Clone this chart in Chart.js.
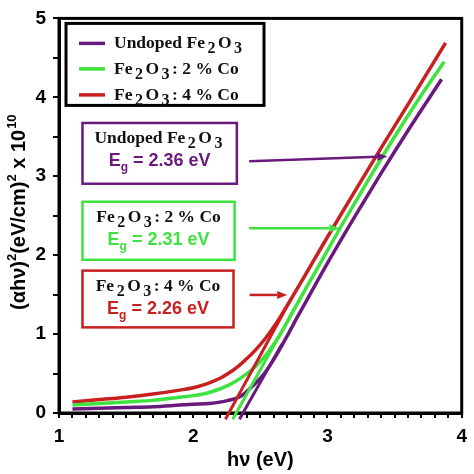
<!DOCTYPE html>
<html>
<head>
<meta charset="utf-8">
<script src="https://cdn.jsdelivr.net/npm/chart.js@4"></script>
<style>
  html, body { margin: 0; padding: 0; background: #fff; }
</style>
</head>
<body>
<canvas id="taucChart" width="474" height="474"></canvas>
<script>
// Tauc plot data (hv in eV, (ahv)^2 in 1e10 units)
const undopedX = [1.1, 1.3, 1.5, 1.7, 1.9, 2.0, 2.12, 2.26, 2.36, 2.41, 2.46, 2.52, 2.6, 2.8, 3.0, 3.2, 3.4, 3.6, 3.85];
const undopedY = [0.05, 0.06, 0.07, 0.08, 0.1, 0.11, 0.12, 0.16, 0.22, 0.29, 0.37, 0.48, 0.68, 1.29, 1.9, 2.48, 3.04, 3.58, 4.23];

const co2X = [1.1, 1.3, 1.5, 1.7, 1.9, 2.0, 2.12, 2.26, 2.4, 2.47, 2.53, 2.6, 2.67, 2.75, 2.85, 2.95, 3.1, 3.3, 3.5, 3.7, 3.87];
const co2Y = [0.1, 0.12, 0.14, 0.16, 0.2, 0.22, 0.26, 0.35, 0.5, 0.6, 0.71, 0.87, 1.06, 1.31, 1.61, 1.91, 2.36, 2.94, 3.5, 4.03, 4.45];

const co4X = [1.1, 1.3, 1.5, 1.7, 1.9, 2.0, 2.1, 2.2, 2.26, 2.33, 2.4, 2.47, 2.54, 2.62, 2.71, 2.8, 2.9, 3.0, 3.2, 3.4, 3.6, 3.88];
const co4Y = [0.14, 0.17, 0.2, 0.24, 0.29, 0.32, 0.37, 0.44, 0.5, 0.585, 0.69, 0.81, 0.95, 1.14, 1.39, 1.65, 1.94, 2.23, 2.8, 3.36, 3.91, 4.69];

// extrapolated linear fits (tangents) down to the energy axis
const undopedFitX = [2.344, 2.66];
const undopedFitY = [-0.08, 0.87];
const co2FitX = [2.294, 2.76];
const co2FitY = [-0.08, 1.34];
const co4FitX = [2.24, 2.73];
const co4FitY = [-0.08, 1.45];

const seriesNames = ["Undoped Fe_2O_3", "Fe_2O_3: 2 % Co", "Fe_2O_3: 4 % Co"];
const gapValues = ["2.36", "2.31", "2.26"];
const colors = ["#6a1a7c", "#3fe23f", "#c81f1f"];

// annotation boxes and arrows, in axis units
const notes = [
  { x0: 1.175, x1: 2.325, yTop: 3.675, yBot: 2.905, from: [2.417, 3.19], to: [3.446, 3.25] },
  { x0: 1.175, x1: 2.308, yTop: 2.677, yBot: 1.941, from: [2.417, 2.34], to: [3.089, 2.34] },
  { x0: 1.175, x1: 2.3, yTop: 1.804, yBot: 1.085, from: [2.42, 1.496], to: [2.7, 1.496] },
];

function pts(xs, ys) {
  return xs.map((x, i) => ({ x: x, y: ys[i] }));
}

const SERIF = 'bold 17.5px "Liberation Serif"';
const SERIF_SUB = 'bold 16px "Liberation Serif"';
const SANS = 'bold 18px "Liberation Sans"';
const SANS_SUB = 'bold 12px "Liberation Sans"';

function chemParts(str) {
  const parts = [];
  let buf = "";
  for (let i = 0; i < str.length; i++) {
    if (str[i] === "_") {
      if (buf) parts.push({ t: buf, f: SERIF, dy: 0 });
      buf = "";
      parts.push({ t: str[i + 1], f: SERIF_SUB, dy: 5, pad: 2.5 });
      i++;
    } else {
      buf += str[i];
    }
  }
  if (buf) parts.push({ t: buf, f: SERIF, dy: 0 });
  return parts;
}

function gapParts(v) {
  return [
    { t: "E", f: SANS, dy: 0 },
    { t: "g", f: SANS_SUB, dy: 5 },
    { t: " = " + v + " eV", f: SANS, dy: 0 },
  ];
}

function partsWidth(ctx, parts) {
  let w = 0;
  parts.forEach(p => {
    ctx.font = p.f;
    w += ctx.measureText(p.t).width + 2 * (p.pad || 0);
  });
  return w;
}

function drawParts(ctx, parts, x, y, color) {
  ctx.fillStyle = color;
  ctx.textAlign = "left";
  ctx.textBaseline = "alphabetic";
  parts.forEach(p => {
    ctx.font = p.f;
    x += p.pad || 0;
    ctx.fillText(p.t, x, y + p.dy);
    x += ctx.measureText(p.t).width + (p.pad || 0);
  });
}

function arrow(ctx, x1, y1, x2, y2, color) {
  const a = Math.atan2(y2 - y1, x2 - x1);
  const len = 10, half = 4;
  ctx.strokeStyle = color;
  ctx.fillStyle = color;
  ctx.lineWidth = 2.5;
  ctx.beginPath();
  ctx.moveTo(x1, y1);
  ctx.lineTo(x2 - len * Math.cos(a), y2 - len * Math.sin(a));
  ctx.stroke();
  ctx.beginPath();
  ctx.moveTo(x2, y2);
  ctx.lineTo(x2 - len * Math.cos(a) - half * Math.sin(a), y2 - len * Math.sin(a) + half * Math.cos(a));
  ctx.lineTo(x2 - len * Math.cos(a) + half * Math.sin(a), y2 - len * Math.sin(a) - half * Math.cos(a));
  ctx.closePath();
  ctx.fill();
}

const decorations = {
  id: "decorations",
  beforeDatasetsDraw(chart) {
    const { ctx, chartArea: a } = chart;
    ctx.save();
    ctx.strokeStyle = "#000";
    ctx.lineWidth = 3;
    ctx.strokeRect(a.left, a.top, a.right - a.left, a.bottom - a.top);
    ctx.restore();
  },
  afterDatasetsDraw(chart) {
    const { ctx, chartArea: a } = chart;
    const xs = chart.scales.x, ys = chart.scales.y;
    ctx.save();

    // legend
    const lx = a.left + 7, ly = a.top + 5;
    ctx.fillStyle = "#fff";
    ctx.fillRect(lx, ly, 198, 82);
    ctx.strokeStyle = "#000";
    ctx.lineWidth = 3;
    ctx.strokeRect(lx, ly, 198, 82);
    [20, 45.5, 71.5].forEach((dy, i) => {
      ctx.strokeStyle = colors[i];
      ctx.lineWidth = 3.5;
      ctx.beginPath();
      ctx.moveTo(lx + 13, ly + dy);
      ctx.lineTo(lx + 39, ly + dy);
      ctx.stroke();
      drawParts(ctx, chemParts(seriesNames[i]), lx + 48, ly + dy + 5, "#111");
    });

    // band gap boxes with arrows
    notes.forEach((n, i) => {
      const x0 = xs.getPixelForValue(n.x0), x1 = xs.getPixelForValue(n.x1);
      const y0 = ys.getPixelForValue(n.yTop), y1 = ys.getPixelForValue(n.yBot);
      ctx.fillStyle = "#fff";
      ctx.fillRect(x0, y0, x1 - x0, y1 - y0);
      ctx.strokeStyle = colors[i];
      ctx.lineWidth = 2.5;
      ctx.strokeRect(x0, y0, x1 - x0, y1 - y0);
      const cx = (x0 + x1) / 2;
      const p1 = chemParts(seriesNames[i]);
      drawParts(ctx, p1, cx - partsWidth(ctx, p1) / 2, y0 + 20, "#111");
      const p2 = gapParts(gapValues[i]);
      drawParts(ctx, p2, cx - partsWidth(ctx, p2) / 2, y0 + 43, colors[i]);
      arrow(ctx, xs.getPixelForValue(n.from[0]), ys.getPixelForValue(n.from[1]),
        xs.getPixelForValue(n.to[0]), ys.getPixelForValue(n.to[1]), colors[i]);
    });

    // y axis title with superscripts
    const big = 'bold 20px "Liberation Sans"', small = 'bold 13px "Liberation Sans"';
    const title = [
      { t: "(\u03b1h\u03bd)", f: big, dy: 0 },
      { t: "2", f: small, dy: -9 },
      { t: "(eV/cm)", f: big, dy: 0 },
      { t: "2", f: small, dy: -9 },
      { t: " x 10", f: big, dy: 0 },
      { t: "10", f: small, dy: -9, pad: 1 },
    ];
    ctx.translate(25, (a.top + a.bottom) / 2 - 4);
    ctx.rotate(-Math.PI / 2);
    drawParts(ctx, title, -partsWidth(ctx, title) / 2, 0, "#000");
    ctx.restore();
  },
};

function lineSet(data, color, width) {
  return {
    data: data,
    borderColor: color,
    borderWidth: width,
    pointRadius: 0,
    fill: false,
    clip: false,
    cubicInterpolationMode: "monotone",
  };
}

const isWhole = v => Math.abs(v - Math.round(v)) < 1e-6;

new Chart(document.getElementById("taucChart").getContext("2d"), {
  type: "line",
  data: {
    datasets: [
      lineSet(pts(undopedFitX, undopedFitY), colors[0], 3),
      lineSet(pts(co2FitX, co2FitY), colors[1], 3),
      lineSet(pts(co4FitX, co4FitY), colors[2], 3),
      lineSet(pts(undopedX, undopedY), colors[0], 3.5),
      lineSet(pts(co2X, co2Y), colors[1], 3.5),
      lineSet(pts(co4X, co4Y), colors[2], 3.5),
    ],
  },
  options: {
    responsive: false,
    animation: false,
    layout: { padding: { top: 12, right: 9, left: 0, bottom: 0 } },
    scales: {
      x: {
        type: "linear",
        min: 1,
        max: 4,
        afterFit: s => { s.height = 61; },
        ticks: {
          stepSize: 0.1,
          autoSkip: false,
          maxRotation: 0,
          padding: 7,
          color: "#000",
          font: { family: "Liberation Sans", size: 19, weight: "bold" },
          callback: v => (isWhole(v) ? Math.round(v) : ""),
        },
        grid: { drawOnChartArea: false, color: "#000", lineWidth: 2, tickLength: 5 },
        border: { color: "#000", width: 3 },
        title: {
          display: true,
          text: "h\u03bd (eV)",
          color: "#000",
          font: { family: "Liberation Sans", size: 20, weight: "bold" },
          padding: { top: 0, bottom: 2 },
        },
      },
      y: {
        min: 0,
        max: 5,
        afterFit: s => { s.width = 59; },
        ticks: {
          stepSize: 0.5,
          padding: 7,
          color: "#000",
          font: { family: "Liberation Sans", size: 19, weight: "bold" },
          callback: v => (isWhole(v) ? Math.round(v) : ""),
        },
        grid: { drawOnChartArea: false, color: "#000", lineWidth: 2, tickLength: 6 },
        border: { color: "#000", width: 3 },
      },
    },
    plugins: {
      legend: { display: false },
      tooltip: { enabled: false },
    },
  },
  plugins: [decorations],
});
</script>
</body>
</html>
